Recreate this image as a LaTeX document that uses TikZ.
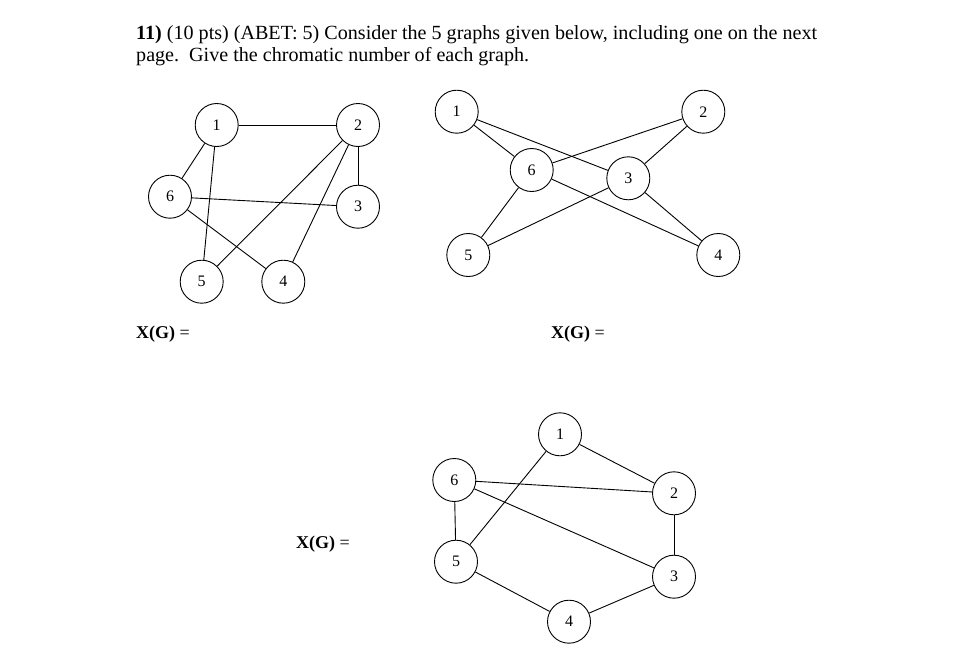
\documentclass[tikz,border=0pt]{standalone}
\usepackage{fontspec}
\setmainfont{Liberation Serif}
\begin{document}
\begin{tikzpicture}[x=1pt,y=-1pt,
  vert/.style={circle,draw,line width=0.9pt,minimum size=43pt,inner sep=0pt,font=\fontsize{16}{18}\selectfont},
  edge/.style={line width=0.9pt},
  txt/.style={anchor=base west,inner sep=0pt,font=\fontsize{20.1}{23}\selectfont},
  lab/.style={anchor=base west,inner sep=0pt,font=\fontsize{18}{21}\selectfont}]
\useasboundingbox[fill=white] (0,0) rectangle (980,662);
% title
\node[txt] (t1) at (136,39.5) {\textbf{11)} (10 pts) (ABET: 5) Consider the 5 graphs given below, including one on the next};
\node[txt] (t2) at (136,61.5) {page.\ \ Give the chromatic number of each graph.};
% graph 1
\node[vert] (a1) at (216.7,125) {1};
\node[vert] (a2) at (358,125) {2};
\node[vert] (a6) at (170,196.7) {6};
\node[vert] (a3) at (358,206.7) {3};
\node[vert] (a5) at (201.7,281.7) {5};
\node[vert] (a4) at (283.3,281.7) {4};
\draw[edge] (a1) -- (a2);
\draw[edge] (a1) -- (a6);
\draw[edge] (a1) -- (a5);
\draw[edge] (a2) -- (a3);
\draw[edge] (a2) -- (a5);
\draw[edge] (a2) -- (a4);
\draw[edge] (a6) -- (a3);
\draw[edge] (a6) -- (a4);
\node[lab] (l1) at (136,338) {\textbf{X(G)} =};
% graph 2
\node[vert] (b1) at (456.7,111.7) {1};
\node[vert] (b2) at (703.3,111.7) {2};
\node[vert] (b6) at (531.7,170) {6};
\node[vert] (b3) at (628.3,178.3) {3};
\node[vert] (b5) at (468.3,255) {5};
\node[vert] (b4) at (718.3,255) {4};
\draw[edge] (b1) -- (b6);
\draw[edge] (b1) -- (b3);
\draw[edge] (b2) -- (b6);
\draw[edge] (b2) -- (b3);
\draw[edge] (b6) -- (b5);
\draw[edge] (b6) -- (b4);
\draw[edge] (b3) -- (b5);
\draw[edge] (b3) -- (b4);
\node[lab] (l2) at (551,338) {\textbf{X(G)} =};
% graph 3
\node[vert] (c1) at (560,434.3) {1};
\node[vert] (c6) at (454.3,480) {6};
\node[vert] (c2) at (674,493.3) {2};
\node[vert] (c5) at (456,561.7) {5};
\node[vert] (c3) at (674,576.7) {3};
\node[vert] (c4) at (569,621.7) {4};
\draw[edge] (c1) -- (c2);
\draw[edge] (c1) -- (c5);
\draw[edge] (c6) -- (c2);
\draw[edge] (c6) -- (c3);
\draw[edge] (c6) -- (c5);
\draw[edge] (c2) -- (c3);
\draw[edge] (c3) -- (c4);
\draw[edge] (c5) -- (c4);
\node[lab] (l3) at (296,548) {\textbf{X(G)} =};
\end{tikzpicture}
\end{document}
